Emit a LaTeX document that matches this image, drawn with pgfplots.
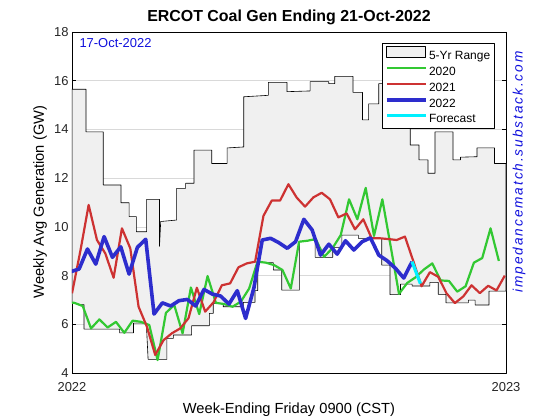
\documentclass[border=0pt]{standalone}
\usepackage{fontspec}
\setmainfont{Liberation Sans}
\newfontfamily\urlfont[LetterSpace=14]{Liberation Sans}
\usepackage{pgfplots}
\pgfplotsset{compat=1.18}
\definecolor{rangegray}{RGB}{240,240,240}
\definecolor{c2020}{RGB}{50,200,50}
\definecolor{c2021}{RGB}{205,50,50}
\definecolor{c2022}{RGB}{45,45,205}
\definecolor{cfc}{RGB}{0,240,255}
\definecolor{txtblue}{RGB}{15,15,220}
\begin{document}
\begin{tikzpicture}
\path[use as bounding box] (-72bp,-47bp) rectangle (488bp,373bp);
\begin{axis}[
  scale only axis, width=434bp, height=341bp,
  xmin=0, xmax=365, ymin=4, ymax=18,
  xtick={0,365}, xticklabels={2022,2023},
  ytick={4,6,...,18},
  ymajorgrids, grid style={draw=black!15, line width=0.5bp},
  axis line style={black, line width=0.6bp},
  major tick length=4bp,
  tick style={black, line width=0.6bp},
  tick align=inside,
  /pgf/number format/assume math mode=true,
  tick label style={font=\fontsize{13}{13}\selectfont, text=black!85},
  xticklabel style={yshift=-6bp},
  legend style={at={(1,1)}, anchor=north east, xshift=-11bp, yshift=-11bp,
    draw=black, fill=white, line width=0.6bp,
    font=\fontsize{12}{12}\selectfont, row sep=4.4bp, inner sep=3bp,
    nodes={inner xsep=1.5bp, inner ysep=0bp, text height=9bp, text depth=2.5bp}},
  legend cell align=left,
  legend image code/.code={\draw[#1] (0bp,4bp) -- (39bp,4bp);},
  line join=round,
]
% 5-year range (max upper stairs, then min lower stairs back)
\addplot[fill=rangegray, draw=black, line width=0.6bp,
  legend image code/.code={\draw[fill=rangegray, draw=black, line width=0.6bp] (0bp,-1.5bp) rectangle (39bp,9.5bp);}]
coordinates {
(0,15.65) (11.8,15.65) (11.8,13.9) (26.3,13.9) (26.3,11.72) (41.2,11.72)
(41.2,10.99) (48,10.99) (48,10.42) (54.2,10.42) (54.2,9.8) (62.7,9.8)
(62.7,11.13) (73.6,11.13) (73.6,9.2) (74.6,10.22) (88,10.28) (88,11.58)
(95.5,11.58) (95.5,11.79) (102.6,11.79) (102.6,13.15) (117.5,13.15) (117.5,12.6)
(130.4,12.6) (130.4,13.24) (144.4,13.28) (144.4,15.34) (165.1,15.4) (165.1,15.93)
(180.8,15.93) (180.8,15.55) (200.2,15.58) (200.2,15.96) (215.9,15.96) (215.9,15.88)
(221,15.88) (221,16.18) (236.3,16.18) (236.3,15.52) (244.3,15.52) (244.3,14.39)
(249.5,14.39) (249.5,15.05) (258,15.05) (258,15.88) (270,15.88) (270,14.6)
(284.5,14.6) (284.5,13.36) (291.8,13.36) (291.8,12.75) (299.4,12.75) (299.4,12.2)
(305.3,12.2) (305.3,13.9) (320.4,13.9) (320.4,12.75) (326.7,12.75) (326.7,12.86)
(340.6,12.88) (340.6,13.24) (355.3,13.24) (355.3,12.6) (365,12.6)
(365,7.36) (350.7,7.36) (350.7,6.79) (339,6.79) (339,6.99) (333.3,6.99)
(333.3,6.88) (314.5,6.88) (314.5,7.23) (308,7.23) (308,7.72) (301,7.72)
(301,7.57) (286,7.57) (286,7.65) (276.3,7.65) (276.3,7.22) (267.4,7.22)
(267.4,8.43) (260.5,8.43) (260.5,9.53) (240.8,9.53) (240.8,9.66) (227,9.66)
(227,9.16) (219.3,9.16) (219.3,8.75) (204.5,8.75) (204.5,9.46) (191.2,9.39)
(191.2,7.4) (176.4,7.4) (176.4,8.23) (169.3,8.23) (169.3,8.53) (156.2,8.53)
(156.2,7.38) (153.9,7.38) (153.9,6.9) (144,6.9) (144,6.72) (127.2,6.72)
(127.2,6.86) (118.8,6.86) (118.8,6.45) (115.5,6.45) (115.5,5.94) (100.6,5.94)
(100.6,5.56) (85.2,5.56) (85.2,5.42) (79.8,5.42) (79.8,4.56) (64,4.56)
(62.5,6.05) (51.7,6.05) (51.7,5.65) (40,5.65) (40,5.8) (10.1,5.8)
(10.1,6.8) (6.5,6.8) (0,6.9)
} -- cycle;
\addlegendentry{5-Yr Range}
% 2020
\addplot[c2020, line width=2.2bp] coordinates {
(-5,6.9) (2,6.88) (9,6.75) (16,5.83) (23,6.2) (30,5.87) (37,6.1) (44,5.65)
(51,6.15) (58,6.1) (65,5.97) (72,4.53) (79,6.47) (86,6.79) (93,5.63)
(100,7.51) (107,6.42) (114,7.98) (121,6.88) (128,6.83) (135,6.72) (142,6.93)
(149,7.47) (156,8.57) (163,8.53) (170,8.43) (177,8.23) (184,7.47) (191,9.39)
(198,9.43) (205,9.5) (212,8.77) (219,9.12) (226,9.66) (233,11.13) (240,10.31)
(247,11.6) (254,9.63) (261,11.13) (268,9.2) (275,7.25) (282,7.7) (289,7.93)
(296,8.25) (303,8.5) (310,7.8) (317,7.78) (324,7.34) (331,7.56) (338,8.53)
(345,8.72) (352,9.94) (359,8.6)
};
\addlegendentry{2020}
% 2021
\addplot[c2021, line width=2.2bp] coordinates {
(0,7.27) (7,9.0) (14,10.9) (21,9.46) (28,8.91) (35,7.91) (42,9.94) (49,9.12)
(56,6.72) (63,5.9) (70,4.74) (77,5.35) (84,5.63) (91,5.83) (98,6.25)
(105,7.5) (112,6.52) (119,6.9) (126,7.6) (133,7.68) (140,8.34) (147,8.5)
(154,8.57) (161,10.45) (168,11.08) (175,11.08) (182,11.75) (189,11.2) (196,10.83)
(203,11.21) (210,11.4) (217,11.13) (224,10.39) (231,10.55) (238,9.9) (245,10.31)
(252,9.53) (259,9.53) (266,9.5) (273,9.46) (280,9.6) (287,8.6) (294,7.56)
(301,8.14) (308,7.95) (315,7.27) (322,6.87) (329,7.14) (336,7.6) (343,7.28)
(350,7.58) (357,7.39) (364,8.0)
};
\addlegendentry{2021}
% 2022
\addplot[c2022, line width=3.6bp] coordinates {
(-1,8.16) (6,8.27) (13,9.09) (20,8.47) (27,9.6) (34,8.75) (41,9.18) (48,8.06)
(55,9.16) (62,9.49) (69,6.42) (76,6.88) (83,6.75) (90,6.97) (97,7.02)
(104,6.75) (111,7.43) (118,7.24) (125,7.16) (132,6.83) (139,7.38) (146,6.24)
(153,7.5) (160,9.46) (167,9.53) (174,9.35) (181,9.12) (188,9.39) (195,10.31)
(202,9.87) (209,8.84) (216,9.29) (223,8.88) (230,9.43) (237,9.05) (244,9.39)
(251,9.55) (258,8.84) (265,8.61) (272,8.3) (279,7.9) (286,8.57)
};
\addlegendentry{2022}
% Forecast
\addplot[cfc, line width=3.2bp] coordinates {
(286,8.57) (293,7.67)
};
\addlegendentry{Forecast}
\end{axis}
\node[font=\fontsize{16}{16}\selectfont\bfseries] at (217bp,356bp) {ERCOT Coal Gen Ending 21-Oct-2022};
\node[font=\fontsize{14.7}{14.7}\selectfont] at (217bp,-37bp) {Week-Ending Friday 0900 (CST)};
\node[font=\fontsize{14.7}{14.7}\selectfont, rotate=90] at (-32bp,171bp) {Weekly Avg Generation (GW)};
\node[anchor=west, text=txtblue, font=\fontsize{13}{13}\selectfont] at (4bp,330bp) {17-Oct-2022};
\node[rotate=90, text=txtblue, font=\urlfont\itshape\fontsize{13.7}{13.7}\selectfont] at (447bp,201bp) {impedancematch.substack.com};
\end{tikzpicture}
\end{document}
